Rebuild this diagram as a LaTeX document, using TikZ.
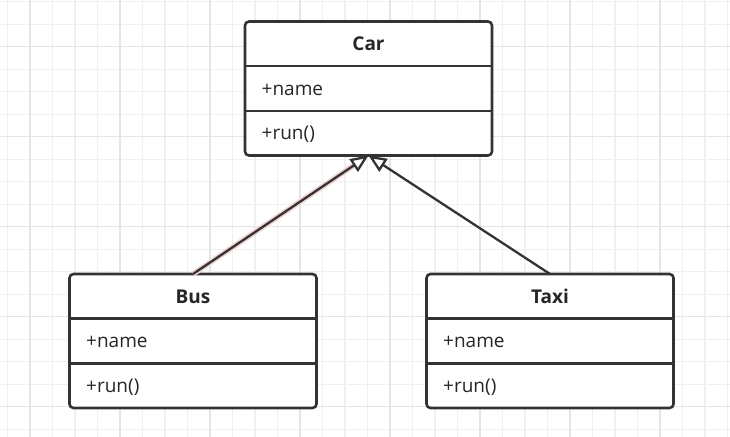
\documentclass[tikz,border=0pt]{standalone}
\usepackage{fontspec}
\setmainfont{Open Sans}
\usetikzlibrary{arrows.meta,calc}
\definecolor{stroke}{HTML}{333333}
\definecolor{inktext}{HTML}{262626}
\definecolor{gridminor}{HTML}{F0F0F0}
\definecolor{gridmajor}{HTML}{E5E5E5}
\definecolor{glowred}{HTML}{F3D3D3}
\begin{document}
\begin{tikzpicture}[x=1bp,y=-1bp,
  classbox/.style={draw=stroke, line width=2.6bp, rounded corners=4bp, fill=white,
    minimum width=247bp, minimum height=134bp, inner sep=0pt, outer sep=0pt},
  titletext/.style={font=\fontsize{19bp}{23bp}\selectfont\bfseries, text=inktext, anchor=base, inner sep=0pt},
  membertext/.style={font=\fontsize{19bp}{23bp}\selectfont, text=inktext, anchor=base west, inner sep=0pt},
  divider/.style={draw=stroke, line width=2.6bp},
  inherit/.style={draw=stroke, line width=2.3bp, -{Triangle[open,length=18bp,width=15bp,fill=white]}},
  glow/.style={draw=glowred, line width=5.5bp, shorten >=17bp}
]
\useasboundingbox (0,0) rectangle (730,437);
\fill[white] (0,0) rectangle (730,437);
\begin{scope}
  \clip (0,0) rectangle (730,437);
  \foreach \i in {0,...,32} {
    \draw[gridminor, line width=1.2bp] ({7.5+22.5*\i},0) -- ({7.5+22.5*\i},437);
  }
  \foreach \i in {0,...,19} {
    \draw[gridminor, line width=1.2bp] (0,{1.7+22.5*\i}) -- (730,{1.7+22.5*\i});
  }
  \foreach \i in {0,...,7} {
    \draw[gridmajor, line width=1.2bp] ({30+90*\i},0) -- ({30+90*\i},437);
  }
  \foreach \i in {0,...,4} {
    \draw[gridmajor, line width=1.2bp] (0,{46.7+90*\i}) -- (730,{46.7+90*\i});
  }
\end{scope}

% classes
\foreach \nm/\cx/\cy/\ttl in {car/368.5/88.5/Car, bus/193/341/Bus, taxi/550/341/Taxi} {
  \node[classbox] (\nm) at (\cx,\cy) {};
  \draw[divider] ($(\nm.north west)!1/3!(\nm.south west)$) -- ($(\nm.north east)!1/3!(\nm.south east)$);
  \draw[divider] ($(\nm.north west)!2/3!(\nm.south west)$) -- ($(\nm.north east)!2/3!(\nm.south east)$);
  \node[titletext] (\nm-title) at ($(\nm.north)!1/6!(\nm.south)+(0,7)$) {\ttl};
  \node[membertext] (\nm-attr) at ($(\nm.north west)!1/2!(\nm.south west)+(16.5,6.6)$) {+name};
  \node[membertext] (\nm-op) at ($(\nm.north west)!5/6!(\nm.south west)+(16.5,6.6)$) {+run()};
}

% inheritance connectors
\draw[glow] (bus.north) -- (car.south);
\draw[inherit] (bus.north) -- (car.south);
\draw[inherit] (taxi.north) -- (car.south);
\end{tikzpicture}
\end{document}
